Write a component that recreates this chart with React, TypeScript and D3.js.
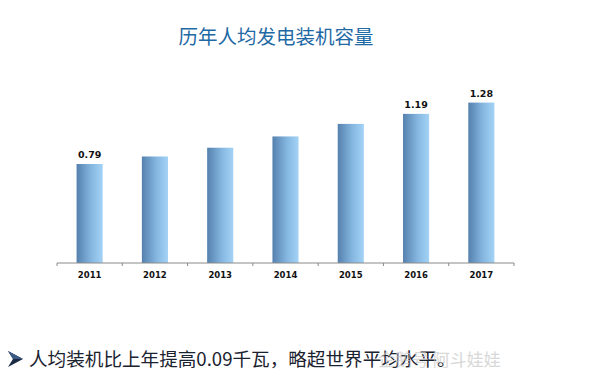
import React from "react";
import * as d3 from "d3";

const years = ["2011", "2012", "2013", "2014", "2015", "2016", "2017"];
const values = [0.79, 0.85, 0.92, 1.01, 1.11, 1.19, 1.28];
const labeledYears = ["2011", "2016", "2017"];
const title = "历年人均发电装机容量";
const note = "人均装机比上年提高0.09千瓦，略超世界平均水平。";
const watermark = "企鹅号 阿斗娃娃";

export default function App() {
  const W = 603, H = 390;
  const x = d3.scaleBand<string>().domain(years).range([57, 514]).padding(0);
  const y = d3.scaleLinear().domain([0, 1.6]).range([263, 62.5]);
  const bw = x.bandwidth() * 0.4;
  const ticks = [...years.map((yr) => x(yr) as number), 514];

  return (
    <svg width={W} height={H} style={{ position: "absolute", left: 0, top: 0, background: "#fff" }}>
      <defs>
        <linearGradient id="barGrad" x1="0" x2="1" y1="0" y2="0">
          <stop offset="0%" stopColor="#5580ad" />
          <stop offset="55%" stopColor="#84b6e0" />
          <stop offset="100%" stopColor="#a4d3f6" />
        </linearGradient>
      </defs>
      <rect width={W} height={H} fill="#fff" />
      <text x={276} y={44} textAnchor="middle" fontFamily="'Noto Sans CJK SC'" fontSize={19.5} fill="#1f6aa5">
        {title}
      </text>
      {years.map((yr, i) => {
        const cx = (x(yr) as number) + x.bandwidth() / 2;
        const top = y(values[i]);
        return (
          <g key={yr}>
            <rect x={cx - bw / 2} y={top} width={bw} height={y(0) - top} fill="url(#barGrad)" />
            {labeledYears.includes(yr) && (
              <text x={cx} y={top - 6} textAnchor="middle" fontFamily="'DejaVu Sans'" fontWeight="bold" fontSize={9.5} fill="#111">
                {values[i].toFixed(2)}
              </text>
            )}
            <text x={cx} y={278} textAnchor="middle" fontFamily="'DejaVu Sans'" fontWeight="bold" fontSize={8.5} fill="#111">
              {yr}
            </text>
          </g>
        );
      })}
      <line x1={57} x2={514} y1={y(0)} y2={y(0)} stroke="#8a8a8a" strokeWidth={1} />
      {ticks.map((t, i) => (
        <line key={i} x1={t} x2={t} y1={y(0)} y2={y(0) + 3} stroke="#8a8a8a" strokeWidth={1} />
      ))}
      <path d="M8,351 L23,359 L8,367 L13,359 Z" fill="#1b2a44" />
      <path d="M8,351 L23,359 L13,359 Z" fill="#3d5a85" />
      <text x={29} y={366} fontFamily="'Noto Sans CJK SC'" fontSize={18.6} fill="#1b2230">
        {note}
      </text>
      <text x={378} y={366} fontFamily="'Noto Sans CJK SC'" fontSize={17} fill="#c8c8c8" opacity={0.7}>
        {watermark}
      </text>
    </svg>
  );
}
